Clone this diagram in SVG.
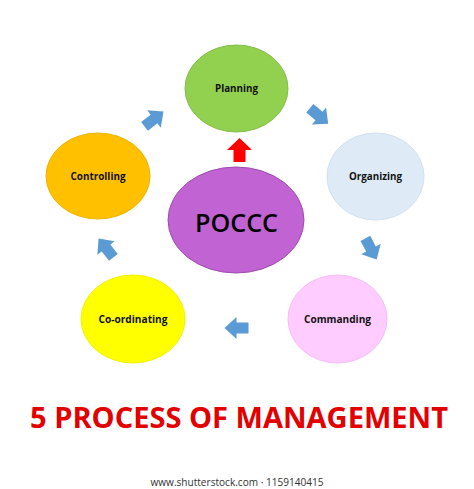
<svg xmlns="http://www.w3.org/2000/svg" width="474" height="489" viewBox="0 0 474 489">
<style>
.lbl{font-family:"Open Sans","Liberation Sans",sans-serif;font-weight:bold;font-size:10.5px;fill:#111;text-anchor:middle}
.blue{fill:#5B9BD5}
</style>
<defs>
<path id="barrow" d="M -12 -5.5 L 0 -5.5 L 0 -11 L 12 0 L 0 11 L 0 5.5 L -12 5.5 Z"/>
</defs>
<rect width="474" height="489" fill="#ffffff"/>
<g id="planning">
<ellipse cx="236.5" cy="88.5" rx="51.5" ry="43.5" fill="#92D050" stroke="#84BE48" stroke-width="1"/>
<text class="lbl" x="236.5" y="92" textLength="43" lengthAdjust="spacingAndGlyphs">Planning</text>
</g>
<g id="controlling">
<ellipse cx="98" cy="176" rx="52" ry="43" fill="#FFC000" stroke="#F0B400" stroke-width="1"/>
<text class="lbl" x="98" y="180" textLength="55" lengthAdjust="spacingAndGlyphs">Controlling</text>
</g>
<g id="organizing">
<ellipse cx="375.5" cy="176.5" rx="48.5" ry="43.5" fill="#DEEBF7" stroke="#D2E1F0" stroke-width="1"/>
<text class="lbl" x="375.5" y="180" textLength="53" lengthAdjust="spacingAndGlyphs">Organizing</text>
</g>
<g id="coordinating">
<ellipse cx="133" cy="319" rx="52" ry="44" fill="#FFFF00" stroke="#F2F200" stroke-width="1"/>
<text class="lbl" x="133" y="323" textLength="69" lengthAdjust="spacingAndGlyphs">Co-ordinating</text>
</g>
<g id="commanding">
<ellipse cx="337.5" cy="319" rx="49.5" ry="44" fill="#FFCCFF" stroke="#F5BDF5" stroke-width="1"/>
<text class="lbl" x="337.5" y="323" textLength="67" lengthAdjust="spacingAndGlyphs">Commanding</text>
</g>
<g id="poccc">
<ellipse cx="236" cy="220" rx="68" ry="53" fill="#C163D2" stroke="#9E4CAE" stroke-width="1"/>
<text x="236.5" y="232" font-family="Open Sans,Liberation Sans,sans-serif" font-weight="600" font-size="26" fill="#000" text-anchor="middle" textLength="83" lengthAdjust="spacingAndGlyphs">POCCC</text>
</g>
<g id="connectors">
<path d="M 239.5 138 L 252 150 L 245.5 150 L 245.5 162 L 233.5 162 L 233.5 150 L 227 150 Z" fill="#FF0000"/>
<use href="#barrow" class="blue" transform="translate(154,119) rotate(-38)"/>
<use href="#barrow" class="blue" transform="translate(319,116) rotate(40)"/>
<use href="#barrow" class="blue" transform="translate(371,249) rotate(62)"/>
<use href="#barrow" class="blue" transform="translate(236.5,328) rotate(180)"/>
<use href="#barrow" class="blue" transform="translate(106,248) rotate(-128)"/>
</g>
<text x="239" y="428" font-family="Open Sans,Liberation Sans,sans-serif" font-weight="bold" font-size="28" fill="#E30000" text-anchor="middle" textLength="418" lengthAdjust="spacingAndGlyphs">5 PROCESS OF MANAGEMENT</text>
<text x="237" y="486" font-family="Open Sans,Liberation Sans,sans-serif" font-size="10.5" fill="#333" text-anchor="middle" textLength="173" lengthAdjust="spacingAndGlyphs">www.shutterstock.com · 1159140415</text>
</svg>
